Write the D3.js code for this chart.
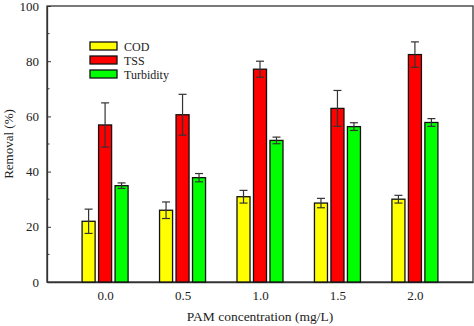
<!DOCTYPE html>
<html>
<head>
<meta charset="utf-8">
<script src="https://cdn.jsdelivr.net/npm/d3@7"></script>
<style>
  body { margin: 0; background: #fff; }
  svg text { font-family: "Liberation Serif", "Times New Roman", serif; fill: #222; }
</style>
</head>
<body>
<svg class="chart"></svg>
<script>
// PAM dose vs removal
const doses = [0.0, 0.5, 1.0, 1.5, 2.0];
const series = ["COD", "TSS", "Turbidity"];
const colors = ["#ffff00", "#ff0000", "#00ff00"];

const codVals = [22.0, 26.0, 30.9, 28.6, 30.0];
const codErr = [4.4, 3.0, 2.3, 1.7, 1.4];
const tssVals = [56.9, 60.6, 77.1, 62.9, 82.4];
const tssErr = [8.0, 7.4, 2.9, 6.5, 4.6];
const turbVals = [34.9, 37.8, 51.3, 56.3, 57.8];
const turbErr = [1.0, 1.5, 1.2, 1.4, 1.4];

const yTicks = [0, 20, 40, 60, 80, 100];
const xTicks = [0.0, 0.5, 1.0, 1.5, 2.0];

const size = { w: 474, h: 326 };
const margin = { t: 6, r: 1, b: 44, l: 47 };

const svg = d3.select("svg.chart").attr("width", size.w).attr("height", size.h);

const xScale = d3.scaleLinear()
  .domain([-0.375, 2.375])
  .range([margin.l, size.w - margin.r]);

const yScale = d3.scaleLinear()
  .domain([0, 100])
  .range([size.h - margin.b, margin.t]);

const subScale = d3.scaleBand()
  .domain(series)
  .range([-23, 23])
  .paddingInner(0.21);

const colorScale = d3.scaleOrdinal().domain(series).range(colors);

const allVals = [codVals, tssVals, turbVals];
const allErr = [codErr, tssErr, turbErr];
let data = [];
series.forEach((s, i) => {
  doses.forEach((dose, j) => {
    data.push({ series: s, dose: dose, value: allVals[i][j], err: allErr[i][j] });
  });
});

// frame
svg.append("rect")
  .attr("x", margin.l)
  .attr("y", margin.t)
  .attr("width", size.w - margin.r - margin.l)
  .attr("height", size.h - margin.b - margin.t)
  .attr("fill", "none")
  .attr("stroke", "#333")
  .attr("stroke-width", 1.3);

// y axis with inner ticks
const yAxis = svg.append("g")
  .attr("transform", `translate(${margin.l},0)`)
  .call(d3.axisLeft(yScale).tickValues(yTicks).tickSizeInner(-4).tickSizeOuter(0).tickPadding(8));
yAxis.select(".domain").attr("stroke", "#333").attr("stroke-width", 1.3);
yAxis.selectAll("line").attr("stroke", "#333");
yAxis.selectAll("text").attr("font-size", 13).attr("fill", "#222");

// minor y ticks
svg.append("g")
  .selectAll("line")
  .data([10, 30, 50, 70, 90])
  .join("line")
  .attr("x1", margin.l)
  .attr("x2", margin.l + 2.5)
  .attr("y1", (d) => yScale(d))
  .attr("y2", (d) => yScale(d))
  .attr("stroke", "#333");

// x axis, labels only
const xAxis = svg.append("g")
  .attr("transform", `translate(0,${size.h - margin.b})`)
  .call(d3.axisBottom(xScale).tickValues(xTicks).tickFormat(d3.format(".1f")).tickSize(0).tickPadding(9));
xAxis.select(".domain").attr("stroke", "#333").attr("stroke-width", 1.3);
xAxis.selectAll("text").attr("font-size", 13).attr("fill", "#222");

// bars
svg.append("g")
  .selectAll("rect")
  .data(data)
  .join("rect")
  .attr("x", (d) => xScale(d.dose) + subScale(d.series))
  .attr("y", (d) => yScale(d.value))
  .attr("width", subScale.bandwidth())
  .attr("height", (d) => yScale(0) - yScale(d.value))
  .attr("fill", (d) => colorScale(d.series))
  .attr("stroke", "#111")
  .attr("stroke-width", 1.3);

// error bars
const errG = svg.append("g").attr("stroke", "#333").attr("stroke-width", 1.2);
const cx = (d) => xScale(d.dose) + subScale(d.series) + subScale.bandwidth() / 2;
errG.selectAll("line.v")
  .data(data)
  .join("line")
  .attr("class", "v")
  .attr("x1", cx).attr("x2", cx)
  .attr("y1", (d) => yScale(d.value + d.err))
  .attr("y2", (d) => yScale(d.value - d.err));
errG.selectAll("line.top")
  .data(data)
  .join("line")
  .attr("class", "top")
  .attr("x1", (d) => cx(d) - 4).attr("x2", (d) => cx(d) + 4)
  .attr("y1", (d) => yScale(d.value + d.err))
  .attr("y2", (d) => yScale(d.value + d.err));
errG.selectAll("line.bot")
  .data(data)
  .join("line")
  .attr("class", "bot")
  .attr("x1", (d) => cx(d) - 4).attr("x2", (d) => cx(d) + 4)
  .attr("y1", (d) => yScale(d.value - d.err))
  .attr("y2", (d) => yScale(d.value - d.err));

// legend
const legend = svg.append("g").attr("transform", "translate(90,42)");
series.forEach((s, i) => {
  legend.append("rect")
    .attr("x", 0)
    .attr("y", i * 14)
    .attr("width", 27)
    .attr("height", 8)
    .attr("fill", colorScale(s))
    .attr("stroke", "#111")
    .attr("stroke-width", 1.3);
  legend.append("text")
    .attr("x", 34)
    .attr("y", i * 14 + 8.5)
    .attr("font-size", 12)
    .text(s);
});

// axis labels
svg.append("text")
  .attr("x", xScale(1.0))
  .attr("y", 321)
  .attr("text-anchor", "middle")
  .attr("font-size", 13.5)
  .text("PAM concentration (mg/L)");

svg.append("text")
  .attr("transform", "rotate(-90)")
  .attr("x", -yScale(50))
  .attr("y", 13)
  .attr("text-anchor", "middle")
  .attr("font-size", 13)
  .text("Removal (%)");
</script>
</body>
</html>
